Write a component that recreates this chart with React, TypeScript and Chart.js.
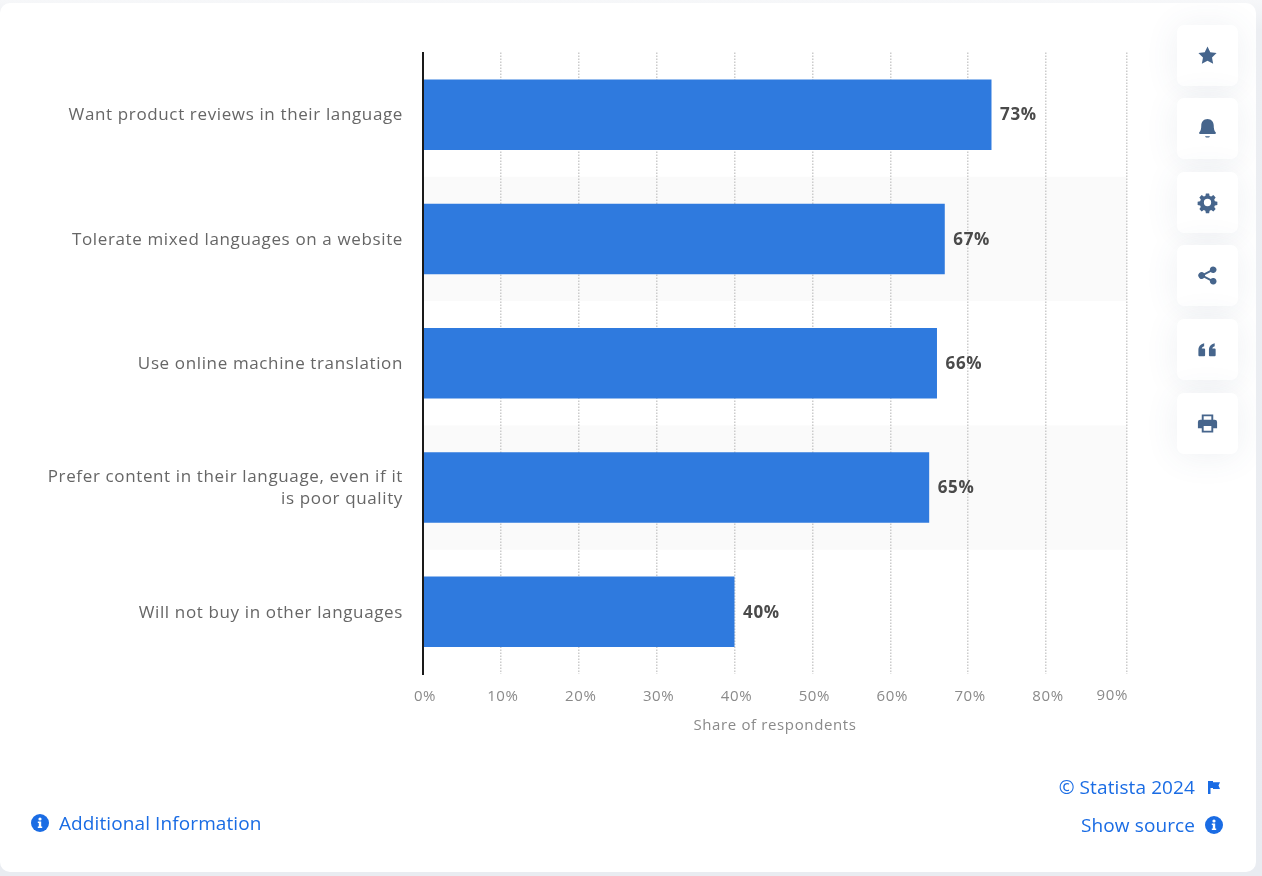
import React, { useEffect, useRef } from "react";
import { Chart, registerables } from "chart.js";

Chart.register(...registerables);

const categories: (string | string[])[] = [
  "Want product reviews in their language",
  "Tolerate mixed languages on a website",
  "Use online machine translation",
  ["Prefer content in their language, even if it", "is poor quality"],
  "Will not buy in other languages",
];
const shares = [73, 67, 66, 65, 40];
const xTickValues = [0, 10, 20, 30, 40, 50, 60, 70, 80, 90];
const axisTitle = "Share of respondents";
const axisMax = 90.4;

const FONT = '"Open Sans", sans-serif';
const BAR = "#2f7ade";
const LINK = "#1a6ce4";
const ICON = "#46658c";
const MUTED = "#8a8a8a";
const lastTick = xTickValues[xTickValues.length - 1];

const decor = {
  id: "decor",
  beforeDraw(chart: any) {
    chart.ctx.letterSpacing = "0.63px";
  },
  beforeDatasetsDraw(chart: any) {
    const { ctx, chartArea, scales } = chart;
    const step = (chartArea.bottom - chartArea.top) / categories.length;
    ctx.save();
    ctx.fillStyle = "#fafafa";
    ctx.globalCompositeOperation = "destination-over";
    categories.forEach((_, i) => {
      if (i % 2 === 1) {
        const c = scales.y.getPixelForValue(i);
        ctx.fillRect(chartArea.left + 1, c - step / 2, chartArea.right - chartArea.left - 1, step);
      }
    });
    ctx.restore();
  },
  afterDatasetsDraw(chart: any) {
    const { ctx, chartArea } = chart;
    const meta = chart.getDatasetMeta(0);
    ctx.save();
    ctx.letterSpacing = "0.7px";
    ctx.font = `700 17px ${FONT}`;
    ctx.fillStyle = "#4a4a4a";
    ctx.textAlign = "left";
    ctx.textBaseline = "middle";
    meta.data.forEach((bar: any, i: number) => {
      ctx.fillText(`${shares[i]}%`, bar.x + 8.5, bar.y + 1);
    });
    // The last tick label sits left of its gridline, flush with the plot edge.
    ctx.letterSpacing = "0.63px";
    ctx.font = `400 15px ${FONT}`;
    ctx.fillStyle = MUTED;
    ctx.textAlign = "right";
    ctx.textBaseline = "top";
    ctx.fillText(`${lastTick}%`, chartArea.right + 1, chartArea.bottom + 14);
    ctx.restore();
  },
};

const buttonTops = [25, 98, 172, 245, 319, 393];
const icons = [
  <path key="s" d="M12 2.500l2.900 6.100 6.600.9-4.800 4.600 1.200 6.600L12 17.500l-5.900 3.200 1.200-6.600L2.500 9.500l6.600-.9z" />,
  <path key="b" d="M12 2c-3.900 0-6.500 3-6.500 6.800 0 3.600-.7 6-2 7.200-.6.600-.3 1.800.7 1.800h15.600c1 0 1.300-1.200.7-1.800-1.300-1.200-2-3.600-2-7.200C18.500 5 15.900 2 12 2zM9.500 20h5c0 .8-.8 1.300-2.500 1.300s-2.500-.5-2.500-1.300z" />,
  <path key="g" fillRule="evenodd" d="M10.300 2.500h3.400l.5 2.600 1.700.7 2.200-1.500 2.400 2.400-1.500 2.200.7 1.700 2.600.5v3.400l-2.600.5-.7 1.700 1.500 2.200-2.400 2.400-2.200-1.500-1.700.7-.5 2.600h-3.400l-.5-2.600-1.700-.7-2.200 1.500-2.400-2.400 1.500-2.200-.7-1.700-2.600-.5v-3.400l2.600-.5.700-1.700-1.500-2.200 2.400-2.400 2.200 1.500 1.700-.7zM12 8.200a3.800 3.800 0 100 7.600 3.800 3.800 0 000-7.600z" />,
  <path key="h" d="M18 2.500a3.500 3.500 0 11-2.600 5.900l-6 3a3.600 3.600 0 010 1.200l6 3a3.500 3.500 0 11-.9 1.800l-6-3a3.500 3.500 0 110-4.800l6-3A3.500 3.500 0 0118 2.500z" />,
  <path key="q" d="M2.500 13c0-4 1.800-6.500 6-7.500v3c-1.700.5-2.400 1.400-2.500 2.500h2.500c.6 0 1 .4 1 1v6c0 .6-.4 1-1 1h-5c-.6 0-1-.4-1-1zM13.500 13c0-4 1.800-6.500 6-7.500v3c-1.700.5-2.400 1.400-2.500 2.500h2.500c.6 0 1 .4 1 1v6c0 .6-.4 1-1 1h-5c-.6 0-1-.4-1-1z" />,
  <path key="p" fillRule="evenodd" d="M6 2.500h12v5.500h1.500A2.500 2.500 0 0122 10.500V17h-4v4.500H6V17H2v-6.500A2.500 2.500 0 014.500 8H6zM8 4.500V8h8V4.500zM8 14.500v5h8v-5z" />,
];

function InfoIcon({ left, top }: { left: number; top: number }) {
  return (
    <svg width={18} height={18} viewBox="0 0 18 18" style={{ position: "absolute", left, top }}>
      <circle cx="9" cy="9" r="9" fill={LINK} />
      <circle cx="9" cy="5" r="1.600" fill="#fff" />
      <path d="M6.800 7.500h3.400v5h1v1.500H6.800v-1.500h1v-3.500h-1z" fill="#fff" />
    </svg>
  );
}

function Link({ text, style }: { text: string; style: React.CSSProperties }) {
  return (
    <div style={{ position: "absolute", fontFamily: FONT, fontSize: 19, letterSpacing: 0.1, lineHeight: "24px", color: LINK, whiteSpace: "nowrap", ...style }}>
      {text}
    </div>
  );
}

export default function App() {
  const ref = useRef<HTMLCanvasElement>(null);

  useEffect(() => {
    document.body.style.margin = "0";
    document.body.style.background = "#e9ecf1";
    const chart = new Chart(ref.current!, {
      type: "bar",
      data: {
        labels: categories as any,
        datasets: [{ data: shares, backgroundColor: BAR, barPercentage: 0.567, categoryPercentage: 1 }],
      },
      plugins: [decor],
      options: {
        indexAxis: "y",
        animation: false,
        responsive: false,
        layout: { padding: { top: 52.5, right: 135, left: 0, bottom: 141 } },
        plugins: { legend: { display: false }, tooltip: { enabled: false } },
        scales: {
          x: {
            type: "linear",
            min: 0,
            max: axisMax,
            afterBuildTicks(scale: any) {
              // The last gridline is the plot's right edge.
              scale.ticks = xTickValues.map((value) => ({ value: value === lastTick ? axisMax : value }));
            },
            afterFit(scale: any) {
              scale.height = 61;
            },
            border: { display: false, dash: [1.5, 1.5] },
            grid: { color: "#cccccc", lineWidth: 1.5, drawTicks: false },
            ticks: {
              maxRotation: 0,
              autoSkip: false,
              padding: 14,
              labelOffset: 2,
              color: MUTED,
              font: { family: FONT, size: 15 },
              callback: (v: any) => (v === axisMax ? "" : `${v}%`),
            },
            title: {
              display: true,
              text: axisTitle,
              color: MUTED,
              font: { family: FONT, size: 15 },
              padding: { top: 0, bottom: 0 },
            },
          } as any,
          y: {
            afterFit(scale: any) {
              scale.width = 423;
            },
            border: { display: true, color: "#1a1a1a", width: 2, z: 1 },
            grid: { display: false, drawTicks: false },
            ticks: {
              padding: 20,
              labelOffset: 1,
              autoSkip: false,
              color: "#666666",
              font: { family: FONT, size: 17, lineHeight: 1.3 },
            },
          },
        },
      } as any,
    });
    return () => chart.destroy();
  }, []);

  return (
    <div style={{ position: "absolute", left: 0, top: 0, width: 1262, height: 876, overflow: "hidden", background: "linear-gradient(#f6f7f9 0, #eceef2 30px, #e9ecf1 100%)" }}>
      <div style={{ position: "absolute", left: 0, top: 3, width: 1256, height: 869, background: "#fff", borderRadius: 10 }} />
      <canvas ref={ref} width={1262} height={876} style={{ position: "absolute", left: 0, top: 0, display: "block" }} />
      <div style={{ position: "absolute", left: 0, top: 3, width: 1256, height: 869, borderRadius: 10, overflow: "hidden", pointerEvents: "none" }}>
        {buttonTops.map((top, i) => (
          <div key={top} style={{ position: "absolute", left: 1177, top: top - 3, width: 61, height: 60.500, background: "#fff", borderRadius: 7, boxShadow: "0 2px 34px rgba(70,90,120,.09)", display: "flex", alignItems: "center", justifyContent: "center" }}>
            <svg width={23} height={23} viewBox="0 0 24 24" fill={ICON}>{icons[i]}</svg>
          </div>
        ))}
      </div>
      <InfoIcon left={31} top={814} />
      <Link text="Additional Information" style={{ left: 59, top: 811 }} />
      <Link text="© Statista 2024" style={{ right: 67, top: 775 }} />
      <svg width={14} height={15} viewBox="0 0 14 15" style={{ position: "absolute", left: 1207, top: 780 }}>
        <path d="M1 1h5v1.200h7l-1.500 3.400 1.500 3.400H6V8H3.500V14H1z" fill={LINK} />
      </svg>
      <Link text="Show source" style={{ right: 67, top: 813 }} />
      <InfoIcon left={1205} top={816} />
    </div>
  );
}
